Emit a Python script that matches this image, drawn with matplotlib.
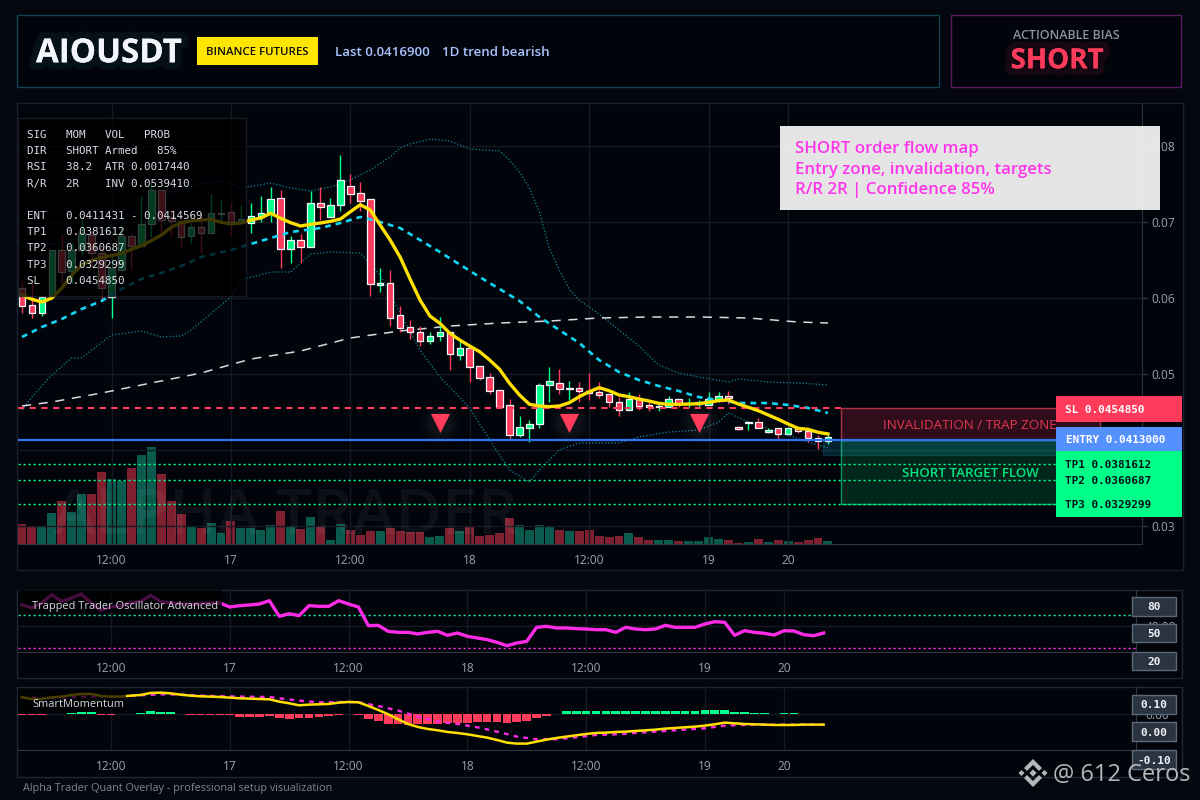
import numpy as np
import matplotlib
matplotlib.use("Agg")
import matplotlib.pyplot as plt
from matplotlib.patches import Rectangle, Polygon
import matplotlib.patheffects as pe

SANS = "Open Sans"
MONO = "DejaVu Sans Mono"

opens = [.06128,.05908,.05799,.0603,.06631,.06359,.06631,.06829,.06596,.06017,
 .06368,.06816,.06688,.0697,.07421,.0707,.07017,.0682,.06934,.06855,
 .07105,.07128,.06996,.06991,.07083,.07114,.07312,.06641,.06759,.06667,
 .07246,.07062,.0722,.0747,.07378,.07299,.06175,.06193,.05776,.05614,
 .05556,.05438,.05504,.05556,.05254,.05338,.05105,.04956,.04789,.04588,
 .04201,.04293,.04338,.04851,.04878,.04807,.04812,.0478,.04759,.04733,
 .04628,.04522,.04667,.04588,.04562,.0457,.04667,.04605,.04605,.04588,
 .04658,.04706,.04303,.04351,.04364,.04241,.04293,.04207,.04285,.0425,
 .04154,.04122]
closes = [.05899,.05799,.06017,.06631,.06346,.06631,.06855,.06596,.06128,.06395,
 .06816,.06688,.06974,.07421,.07026,.07017,.06806,.06934,.06855,.07118,
 .07125,.06996,.07035,.07083,.07114,.07299,.06641,.06759,.06667,.07246,
 .07201,.0722,.07549,.07372,.0728,.0618,.06193,.05733,.05605,.05556,
 .05438,.05504,.05556,.05259,.05338,.05096,.04951,.0478,.0457,.04201,
 .04299,.04338,.04851,.04904,.04807,.04816,.0478,.04754,.04728,.04628,
 .04522,.04667,.04583,.04562,.04579,.04667,.04605,.04622,.04635,.04675,
 .04714,.0468,.04272,.04364,.04293,.04259,.04207,.04293,.04254,.04154,
 .04122,.04167]
highs = [.06214,.06197,.06026,.06631,.06842,.06724,.07026,.06895,.06675,.06566,
 .0696,.06855,.07342,.0753,.07421,.07158,.07079,.06987,.07092,.07368,
 .07289,.07267,.07224,.07246,.07342,.07457,.07421,.06816,.06842,.07408,
 .07457,.07316,.07882,.07632,.07526,.07303,.06399,.06368,.05895,.0571,
 .05631,.05549,.05746,.05556,.05447,.05338,.05105,.05009,.04789,.04671,
 .04447,.04395,.04878,.05088,.05066,.04908,.04895,.05009,.04895,.04733,
 .04701,.04767,.04733,.04635,.04635,.04711,.04671,.04684,.04658,.04763,
 .04763,.0478,.04316,.04385,.04421,.04289,.04293,.04306,.04306,.0425,
 .04197,.04197]
lows = [.05799,.05737,.05763,.06026,.06131,.06197,.06566,.06408,.05974,.05737,
 .06368,.06368,.06671,.06806,.06872,.06829,.06675,.06724,.06596,.06842,
 .06987,.06829,.06987,.06851,.07,.06996,.06399,.06464,.06464,.06667,
 .07026,.07062,.07149,.07254,.07149,.0603,.06083,.05631,.05553,.05461,
 .05372,.05395,.05438,.05053,.05184,.04899,.04921,.04737,.04553,.04141,
 .04175,.04109,.04293,.04635,.04733,.04658,.04635,.04658,.04688,.0457,
 .04451,.04522,.04526,.04517,.04517,.04566,.04562,.04562,.04566,.04588,
 .04635,.04605,.04263,.04263,.04285,.04228,.04145,.04207,.04228,.04109,
 .04013,.04079]
volumes = [20,18,17,31,43,32,50,50,72,65,63,76,89,97,70,43,30,18,16,21,
 11,23,16,16,14,19,33,18,15,27,18,4,20,14,9,13,13,16,13,12,
 12,7,8,16,13,18,8,9,11,26,19,14,19,17,14,13,13,14,8,7,
 8,11,7,4,4,4,3,3,3,7,5,4,1,2,5,2,4,3,2,4,6,3]
ema_fast = [.06039,.05983,.05947,.06,.06128,.06303,.06434,.06491,.06535,.06557,
 .06588,.06641,.06688,.06754,.06829,.0693,.06991,.07013,.07026,.07035,
 .06996,.06974,.06987,.07026,.07053,.07114,.07049,.06991,.06947,.0697,
 .06987,.07009,.07039,.07135,.07228,.07158,.0696,.06763,.06539,.0625,
 .05974,.05763,.05667,.05535,.05447,.05368,.05293,.05184,.05062,.04878,
 .04724,.04601,.04579,.0457,.04579,.04622,.04701,.04767,.0482,.0478,
 .04724,.04701,.04671,.04645,.04614,.04601,.04601,.04605,.04609,.04628,
 .04649,.04658,.04605,.04562,.04517,.04461,.04404,.04342,.04285,.04272,
 .04233,.04211]
ma_mid_idx = [0,2,4,6,8,10,12,14,16,18,21,23,25,27,30,32,34,36,38,42,46,50,52,54,
 56,58,60,62,64,66,68,70,72,75,77,79,81]
ma_mid = [.05487,.05618,.05724,.05855,.05961,.06118,.0625,.06329,.06421,.06539,.06631,
 .06711,.06789,.06868,.06921,.06987,.07066,.07,.06921,.06605,.06276,.05961,.0575,
 .05579,.05408,.05184,.05026,.04921,.04842,.04776,.04697,.04658,.04618,.04618,
 .04592,.04553,.04487]
ma_slow_idx = [0,3,8,13,18,23,28,33,38,43,48,53,58,63,68,73,78,81]
ma_slow = [.04579,.04632,.0475,.04882,.05013,.05197,.05303,.05474,.05566,.05631,
 .05671,.05697,.05737,.0575,.0575,.05737,.05684,.05671]
bb_up_idx = [0,4,8,12,14,18,20,22,25,27,29,31,33,35,37,38,39,41,43,45,48,49,50,51,
 52,53,54,55,56,58,60,62,64,66,68,71,72,75,78,81]
bb_up = [.06671,.06724,.06868,.07184,.07329,.07513,.07539,.07447,.07513,.07447,.07408,
 .07461,.07553,.07684,.07855,.07974,.08026,.08092,.08066,.07961,.07934,.07816,.07658,
 .07447,.07132,.06658,.06368,.06118,.05974,.05789,.05579,.05368,.05118,.05013,.04961,
 .04895,.04934,.04895,.04882,.04855]
bb_lo_idx = [0,1,3,5,6,9,12,14,16,17,21,22,25,27,29,31,34,36,38,40,42,45,47,49,51,52,
 54,56,60,62,65,68,70,71,73,76,79,81]
bb_lo = [.04526,.04697,.04987,.05211,.05211,.05513,.05566,.05487,.055,.05579,.06013,
 .06237,.06342,.06342,.06579,.06605,.06592,.06303,.05803,.05316,.04961,.04553,.04131,
 .03737,.03579,.03737,.04,.04092,.04092,.04171,.04237,.04263,.04368,.04487,.04368,
 .04237,.04105,.04026]
oscillator = [98.8,92.7,101.8,117,104.8,110.9,118.2,101.8,88.5,94.5,97,101.8,104.8,115.7,
 104.8,101.8,100.6,98.8,100.6,101.8,101.8,94.5,97,98.2,100,106,77.6,82.4,78.8,97,
 95.8,95.8,106,100,94.5,60.6,61.2,50.3,48.5,48.5,45.5,48.5,50.3,43,47.3,41.2,38.2,
 35.2,30.3,24.2,29.1,32.1,57.6,59.4,56.4,56.4,55.1,54.5,53.3,53.3,48.5,57.6,54.5,
 53.3,54.5,61.2,57.6,57.6,57.6,63.6,67.9,66.7,43,51.5,48.5,46.7,43.6,51.5,50.9,
 44.2,42.4,47.3]
mom_line = [.068,.0613,.0613,.068,.0707,.0773,.0813,.0813,.0733,.0707,.0707,.0747,.0773,
 .0853,.0867,.084,.0787,.0747,.072,.0707,.0693,.0667,.064,.0627,.0613,.06,.0507,.044,
 .036,.0387,.04,.0413,.0467,.0493,.048,.0333,.0173,0,-.02,-.0387,-.0507,-.0587,-.064,
 -.0707,-.0747,-.08,-.0867,-.0933,-.1027,-.1133,-.1173,-.1173,-.1093,-.1013,-.0947,
 -.0893,-.084,-.0787,-.0747,-.0733,-.0707,-.0693,-.0667,-.064,-.0613,-.0573,-.0547,
 -.052,-.0493,-.0453,-.04,-.0333,-.036,-.0387,-.04,-.0413,-.0427,-.0427,-.0427,-.0413,
 -.0413,-.0413]
mom_sig_idx = [0,3,6,9,12,14,16,19,22,25,26,28,30,33,34,36,38,40,42,44,46,48,50,52,54,
 56,58,60,64,69,71,74,81]
mom_sig = [.068,.064,.0707,.0707,.076,.08,.0787,.0733,.0707,.0693,.064,.0547,.048,.0493,
 .048,.0333,.0147,-.0093,-.0293,-.0387,-.052,-.0693,-.0893,-.1,-.1,-.092,-.0827,-.08,
 -.0693,-.056,-.0453,-.0413,-.0413]
mom_hist = [-.0013,-.0027,-.0027,.0013,.0027,.0053,.0107,.0107,-.0013,-.0013,.0013,.0013,
 .0053,.0133,.0093,.0093,.0013,-.0013,-.004,-.004,-.004,-.004,-.0093,-.0093,-.0093,
 -.0067,-.016,-.0187,-.016,-.016,-.0107,-.0053,-.0027,.0013,-.0013,-.0187,-.0267,-.0373,
 -.04,-.0427,-.04,-.04,-.0373,-.036,-.0347,-.0333,-.032,-.032,-.032,-.0347,-.032,-.0267,
 -.0133,-.0053,.0027,.012,.012,.0147,.0147,.0133,.0133,.0133,.0133,.0133,.0133,.0133,
 .0133,.0133,.0133,.0187,.0187,.0187,.0107,.0107,.0067,.0067,.0027,.0053,.0053,.0027,
 .0027,.0013]
time_ticks = [9,21,33,45,57,69,77]
time_labels = ["12:00","17","12:00","18","12:00","19","20"]
price_ticks = [.03,.04,.05,.06,.07,.08]
entry, sl, tp1, tp2, tp3 = .0413, .045485, .0381612, .0360687, .0329299
signal_idx = [42,55,68]
signal_price = [.04355,.04355,.04355]
info_lines = ["SIG   MOM   VOL   PROB","DIR   SHORT Armed   85%","RSI   38.2  ATR 0.0017440",
 "R/R   2R    INV 0.0539410","","ENT   0.0411431 - 0.0414569","TP1   0.0381612",
 "TP2   0.0360687","TP3   0.0329299","SL    0.0454850"]
note_lines = ["SHORT order flow map","Entry zone, invalidation, targets","R/R 2R | Confidence 85%"]

RED, GREEN, CYAN, YELLOW, MAG, TEAL = "#ff3b5c", "#00ff88", "#14d6f5", "#ffe000", "#ff2be6", "#0f8798"
BG, GRID, AXIS, TICK = "#02040c", "#151a22", "#2c3644", "#9aa3b0"

fig = plt.figure(figsize=(12, 8), dpi=100, facecolor="#05070e")

def px_axes(x0, y0, x1, y1, z):
    a = fig.add_axes([x0/1200, 1-y1/800, (x1-x0)/1200, (y1-y0)/800], zorder=z)
    a.patch.set_visible(False)
    return a

back = px_axes(0, 0, 1200, 800, 0)
back.set_xlim(0, 1200); back.set_ylim(800, 0); back.axis("off")
def box(a, x0, y0, x1, y1, fc=BG, ec="none", lw=1, **k):
    a.add_patch(Rectangle((x0, y0), x1-x0, y1-y0, fc=fc, ec=ec, lw=lw, **k))
box(back, 17, 15, 939, 87, ec="#0d4450")
box(back, 951, 15, 1181, 87, ec="#5a1a60")
box(back, 17, 103, 1183, 570, ec="#1a2230")
box(back, 17, 590, 1182, 678, ec="#1e2836")
box(back, 17, 687, 1182, 777, ec="#1e2836")

XL = (-0.4, 112.56)
n = len(opens)
idx = np.arange(n)
o, c, h, l = map(np.array, (opens, closes, highs, lows))
up = c >= o
cols = np.where(up, GREEN, RED)

def style(a, yticks, ylabels, pad_y):
    a.set_xlim(*XL)
    a.set_xticks(time_ticks, time_labels)
    a.set_yticks(yticks, ylabels)
    a.yaxis.tick_right()
    a.grid(True, color=GRID, lw=1)
    a.set_axisbelow(True)
    a.tick_params(axis="x", length=0, pad=7, colors=TICK, labelsize=8.6)
    a.tick_params(axis="y", length=4, width=1, color=AXIS, pad=pad_y, colors=TICK, labelsize=8.6)
    for s in ("top", "left"):
        a.spines[s].set_visible(False)
    for s in ("right", "bottom"):
        a.spines[s].set_color(AXIS)
    for t in a.get_xticklabels() + a.get_yticklabels():
        t.set_family(SANS)

# ---- price panel
vol = px_axes(18, 103, 1142, 544, 1)
vol.set_xlim(*XL); vol.set_ylim(0, 441); vol.axis("off")
vol.bar(idx, volumes, width=0.9, color=np.where(up, "#0a5a4d", "#7f2030"))

ax = px_axes(18, 103, 1142, 544, 2)
ax.set_ylim(0.02763, 0.08566)
style(ax, price_ticks, [f"{v:.2f}" for v in price_ticks], 3)
ax.plot(bb_up_idx, bb_up, color=TEAL, lw=0.9, ls=(0, (1, 1.6)))
ax.plot(bb_lo_idx, bb_lo, color=TEAL, lw=0.9, ls=(0, (1, 1.6)))
ax.plot(ma_slow_idx, ma_slow, color="#d8dade", lw=1.1, ls=(0, (6, 5)))
ax.vlines(idx, l, h, colors=cols, lw=1.0, zorder=3)
ax.bar(idx, np.abs(c-o), bottom=np.minimum(o, c), width=0.66, color=cols,
       edgecolor="#f4f6f8", linewidth=0.9, zorder=4)
ax.plot(ma_mid_idx, ma_mid, color=CYAN, lw=1.9, ls=(0, (2.2, 1.9)), zorder=5)
ax.plot(idx, ema_fast, color=YELLOW, lw=2.4, zorder=6)
ax.hlines(sl, XL[0], 82.3, color=RED, lw=1.5, ls=(0, (3, 2.6)), zorder=5)
ax.hlines(entry, XL[0], 104, color="#2f74f0", lw=1.6, zorder=5)
ax.hlines([tp1, tp2, tp3], XL[0], 104, color=GREEN, lw=1.0, ls=(0, (1.6, 2)), zorder=5)
ax.add_patch(Rectangle((82.3, entry), 26, sl-entry, fc=RED, alpha=0.18, ec="none", zorder=2))
ax.add_patch(Rectangle((82.3, entry), 26, sl-entry, fc="none", ec="#b03048", lw=1, zorder=3))
ax.add_patch(Rectangle((82.3, tp3), 26, entry-tp3, fc=GREEN, alpha=0.14, ec="none", zorder=2))
ax.add_patch(Rectangle((82.3, tp3), 26, entry-tp3, fc="none", ec="#0d9a63", lw=1, zorder=3))
ax.add_patch(Rectangle((80.5, .03935), 27.8, entry-.03935, fc=CYAN, alpha=0.15, ec=CYAN, lw=1, zorder=3))
for s, al in ((800, .018), (500, .022), (300, .025)):
    ax.scatter(signal_idx, signal_price, s=s, color="white", alpha=al, lw=0, zorder=6)
ax.scatter(signal_idx, signal_price, s=190, marker="v", color=RED, lw=0, zorder=7)

# ---- oscillator panel
osc = px_axes(18, 590, 1136, 652, 2)
osc.set_ylim(12.73, 125.45)
style(osc, [60], ["40.00"], 3)
osc.axhline(80, color="#1fe79a", lw=1, ls=(0, (1.6, 2)))
osc.axhline(20, color=MAG, lw=1, ls=(0, (1.6, 2)))
osc.plot(idx, oscillator, color=MAG, lw=2.4)

# ---- momentum panel
mom = px_axes(18, 687, 1136, 750, 2)
mom.set_ylim(-0.1428, 0.1092)
style(mom, [0], ["0.00"], 3)
mom.bar(idx, mom_hist, width=0.88, color=np.where(np.array(mom_hist) >= 0, GREEN, RED))
mom.plot(mom_sig_idx, mom_sig, color=MAG, lw=1.7, ls=(0, (2, 2.2)))
mom.plot(idx, mom_line, color=YELLOW, lw=1.8)

# ---- overlay
ui = px_axes(0, 0, 1200, 800, 6)
ui.set_xlim(0, 1200); ui.set_ylim(800, 0); ui.axis("off")
def txt(x, y, s, color="white", size=9, family=SANS, ha="left", va="center", **k):
    dy = 1.0 if family == MONO else 1.8
    return ui.text(x, y+dy, s, color=color, fontsize=size, family=family, ha=ha, va=va, **k)

# watermark
txt(286, 516, "ALPHA TRADER", color="white", size=46, weight="semibold", ha="center", alpha=0.05)

# header
t = txt(36, 52, "AIOUSDT", size=23.8, weight="bold", color="#f2f5fa")
t.set_path_effects([pe.withStroke(linewidth=10, foreground="#12303c", alpha=0.28), pe.Normal()])
box(ui, 197, 37, 318, 65, fc="#ffe600")
txt(257.5, 51, "BINANCE FUTURES", color="#0a0a0a", size=8.2, weight="semibold", ha="center")
txt(335, 51, "Last 0.0416900", color="#a9c4ff", size=9.5, weight="semibold")
txt(442, 51, "1D trend bearish", color="#a9c4ff", size=9.5, weight="semibold")
txt(1066, 34, "ACTIONABLE BIAS", color="#8a93a3", size=9, weight="semibold", ha="center")
t = txt(1057, 59, "SHORT", color=RED, size=20, weight="bold", ha="center")
t.set_path_effects([pe.withStroke(linewidth=10, foreground="#4a1020", alpha=0.3), pe.Normal()])

# info panel
box(ui, 18, 118, 246, 296, fc="#000000", ec="#1c2128", alpha=0.76)
for k, line in enumerate(info_lines):
    if line:
        txt(27, 134+k*16.2, line, color="#d8dce2", size=7.85, family=MONO)

# note
box(ui, 780, 126, 1160, 210, fc="#eeeeee", alpha=0.97)
for y, s in zip((147, 168, 188), note_lines):
    txt(795, y, s, color="#ff35ea", size=12.1, weight="semibold")

# zone captions
txt(970, 424, "INVALIDATION / TRAP ZONE", color="#e23752", size=9.6, ha="center")
txt(970, 472, "SHORT TARGET FLOW", color="#00e480", size=9.6, ha="center", weight="semibold")

# price tags
def tag(x0, y0, x1, y1, fc, s, color, tx=None):
    box(ui, x0, y0, x1, y1, fc=fc)
    txt(tx if tx else x0+9, (y0+y1)/2, s, color=color, size=7.9, family=MONO, weight="bold")
tag(1056, 396, 1182, 422, RED, "SL 0.0454850", "white")
tag(1056, 427, 1182, 451, "#5590ff", "ENTRY 0.0413000", "white", 1066)
tag(1056, 451, 1182, 477, GREEN, "TP1 0.0381612", "#04121a")
tag(1056, 467, 1182, 493, GREEN, "TP2 0.0360687", "#04121a")
tag(1056, 491, 1182, 517, GREEN, "TP3 0.0329299", "#04121a")

# subpanel captions
box(ui, 18, 590, 222, 612, fc="#000000", alpha=0.72)
txt(32, 605, "Trapped Trader Oscillator Advanced", color="#d4d8de", size=7.9)
box(ui, 18, 690, 126, 712, fc="#000000", alpha=0.72)
txt(32, 703, "SmartMomentum", color="#d4d8de", size=7.9)
for y0, y1, s in ((597, 616, "80"), (624, 642, "50"), (652, 670, "20"),
                  (695, 714, "0.10"), (722, 741, "0.00"), (750, 769, "-0.10")):
    box(ui, 1132, y0, 1176, y1, fc="#2b3340", ec="#5b6878")
    txt(1154, (y0+y1)/2, s, color="#eef2f6", size=8, family=MONO, weight="bold", ha="center")

txt(23, 787, "Alpha Trader Quant Overlay - professional setup visualization", color="#7a8694", size=7.85)

# brand mark
cx, cy, mk = 1033, 773, "#c9cbce"
def poly(pts):
    ui.add_patch(Polygon([(cx+a, cy+b) for a, b in pts], fc=mk, ec="none", alpha=0.9))
poly([(-9,-5),(0,-14),(9,-5),(6,-2),(0,-8),(-6,-2)])
poly([(-9,5),(0,14),(9,5),(6,2),(0,8),(-6,2)])
for dx, r in ((-11.5, 3), (11.5, 3), (0, 3.6)):
    poly([(dx-r,0),(dx,-r),(dx+r,0),(dx,r)])
txt(1053, 773, "@ 612 Ceros", color="#c9cbce", size=17, alpha=0.9)

fig.savefig("out.png", dpi=100, facecolor=fig.get_facecolor())
